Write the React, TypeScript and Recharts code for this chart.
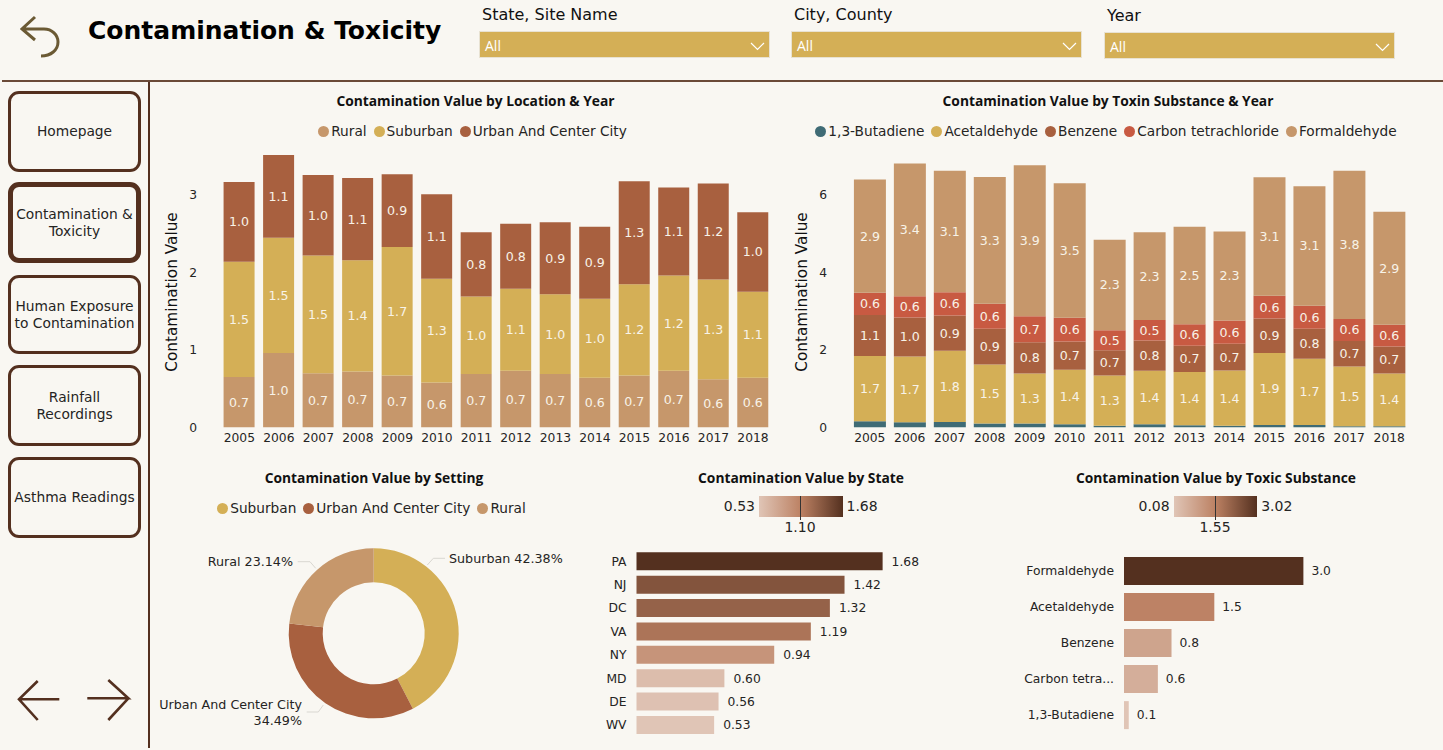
import React from "react";
import { BarChart, Bar, XAxis, YAxis, PieChart, Pie, Cell, LabelList } from "recharts";

const years = ["2005", "2006", "2007", "2008", "2009", "2010", "2011", "2012", "2013", "2014", "2015", "2016", "2017", "2018"];

// contamination by location setting
const ruralValues = [0.65, 0.96, 0.7, 0.72, 0.67, 0.58, 0.69, 0.73, 0.69, 0.64, 0.67, 0.73, 0.62, 0.64];
const suburbanValues = [1.49, 1.49, 1.52, 1.44, 1.66, 1.34, 1.0, 1.06, 1.03, 1.02, 1.18, 1.23, 1.29, 1.11];
const urbanValues = [1.03, 1.07, 1.04, 1.06, 0.94, 1.09, 0.83, 0.84, 0.93, 0.93, 1.33, 1.14, 1.24, 1.03];

// contamination by toxin
const butadieneValues = [0.155, 0.13, 0.14, 0.1, 0.1, 0.08, 0.04, 0.08, 0.05, 0.04, 0.06, 0.06, 0.03, 0.03];
const acetaldehydeValues = [1.69, 1.7, 1.84, 1.52, 1.29, 1.41, 1.3, 1.38, 1.38, 1.43, 1.86, 1.71, 1.54, 1.36];
const benzeneValues = [1.06, 1.01, 0.91, 0.93, 0.81, 0.73, 0.65, 0.78, 0.68, 0.69, 0.89, 0.78, 0.66, 0.7];
const carbonValues = [0.57, 0.55, 0.6, 0.64, 0.67, 0.61, 0.52, 0.53, 0.55, 0.6, 0.59, 0.59, 0.57, 0.56];
const formaldehydeValues = [2.93, 3.43, 3.14, 3.28, 3.9, 3.48, 2.34, 2.27, 2.52, 2.3, 3.06, 3.09, 3.83, 2.92];

const settingNames = ["Suburban", "Urban And Center City", "Rural"];
const settingShares = [42.38, 34.49, 23.14];

const states = ["PA", "NJ", "DC", "VA", "NY", "MD", "DE", "WV"];
const stateValues = [1.68, 1.42, 1.32, 1.19, 0.94, 0.6, 0.56, 0.53];

const substances = ["Formaldehyde", "Acetaldehyde", "Benzene", "Carbon tetrachloride", "1,3-Butadiene"];
const substanceValues = [3.02, 1.52, 0.8, 0.57, 0.08];

const navItems = ["Homepage", "Contamination & Toxicity", "Human Exposure to Contamination", "Rainfall Recordings", "Asthma Readings"];
const slicers = ["State, Site Name", "City, County", "Year"];

const BROWN = "#54301f";
const GOLD = "#d4af56";
const RUST = "#a8603f";
const TAN = "#c6976b";
const TEAL = "#3f6b75";
const RED = "#c85a42";
const BG = "#f9f7f2";
const TEXT = "#252423";
const BODY_FONT = "'DejaVu Sans', sans-serif";
const TITLE_FONT = "'Open Sans', sans-serif";

const locationData = years.map((year, i) => ({
  year,
  rural: ruralValues[i],
  suburban: suburbanValues[i],
  urban: urbanValues[i],
}));

const toxinData = years.map((year, i) => ({
  year,
  butadiene: butadieneValues[i],
  acetaldehyde: acetaldehydeValues[i],
  benzene: benzeneValues[i],
  carbon: carbonValues[i],
  formaldehyde: formaldehydeValues[i],
}));

const settingData = settingNames.map((name, i) => ({ name, value: settingShares[i] }));
const stateData = states.map((name, i) => ({ name, value: stateValues[i] }));
const substanceData = substances.map((name, i) => ({ name, value: substanceValues[i] }));

const hexToRgb = (hex: string) => [1, 3, 5].map((p) => parseInt(hex.slice(p, p + 2), 16));

// same three stop scale the small gradient legends show
function scaleColor(v: number, min: number, mid: number, max: number) {
  const low = hexToRgb("#e0c5b6");
  const centre = hexToRgb("#bc8163");
  const high = hexToRgb(BROWN);
  const [a, b, t] = v < mid ? [low, centre, (v - min) / (mid - min)] : [centre, high, (v - mid) / (max - mid)];
  return `rgb(${a.map((c, i) => Math.round(c + (b[i] - c) * t)).join(",")})`;
}

const fmt1 = (v: unknown) => Number(v).toFixed(1);
const fmt2 = (v: unknown) => Number(v).toFixed(2);
const shorten = (s: string) => (s.length > 14 ? s.slice(0, 12) + "..." : s);

function Title({ text, x, y }: { text: string; x: number; y: number }) {
  return (
    <div
      style={{
        position: "absolute", left: x - 200, top: y - 10, width: 400, height: 20, lineHeight: "20px",
        textAlign: "center", fontFamily: TITLE_FONT, fontWeight: 700, fontSize: 13.8, color: "#111",
      }}
    >
      {text}
    </div>
  );
}

function DotLegend({ items, colors, x, y }: { items: string[]; colors: string[]; x: number; y: number }) {
  return (
    <div
      style={{
        position: "absolute", left: x - 350, top: y - 10, width: 700, height: 20, display: "flex",
        justifyContent: "center", alignItems: "center", gap: 7, fontFamily: BODY_FONT, fontSize: 13.7, color: TEXT,
      }}
    >
      {items.map((item, i) => (
        <span key={item} style={{ display: "flex", alignItems: "center", gap: 2, whiteSpace: "nowrap" }}>
          <span style={{ width: 11, height: 11, borderRadius: "50%", background: colors[i] }} />
          {item}
        </span>
      ))}
    </div>
  );
}

function GradientLegend({ min, mid, max, left, midX }: { min: string; mid: string; max: string; left: number; midX: number }) {
  const width = 83.5;
  const label: React.CSSProperties = { position: "absolute", fontFamily: BODY_FONT, fontSize: 14, color: TEXT, lineHeight: "18px" };
  return (
    <>
      <div
        style={{
          position: "absolute", left, top: 496, width, height: 21,
          background: "linear-gradient(to right, #e0c5b6, #bc8163 50%, #54301f)",
        }}
      />
      <div style={{ position: "absolute", left: midX, top: 496, width: 1, height: 24, background: "#333" }} />
      <div style={{ ...label, left: left - 54, width: 50, top: 497, textAlign: "right" }}>{min}</div>
      <div style={{ ...label, left: left + width + 4, top: 497 }}>{max}</div>
      <div style={{ ...label, left: midX - 30, width: 60, top: 518, textAlign: "center" }}>{mid}</div>
    </>
  );
}

function Slicer({ label, left, top }: { label: string; left: number; top: number }) {
  return (
    <>
      <div style={{ position: "absolute", left: left + 2, top: top - 27, fontFamily: BODY_FONT, fontSize: 16, lineHeight: "20px", color: "#111" }}>
        {label}
      </div>
      <div
        style={{
          position: "absolute", left, top, width: 289, height: 25, background: GOLD, boxShadow: "0 0 0 1px #e8e2d2",
          color: "#fff", fontFamily: TITLE_FONT, fontSize: 14, lineHeight: "27px", textIndent: 5,
        }}
      >
        All
        <svg width="16" height="10" style={{ position: "absolute", left: 270, top: 10 }}>
          <path d="M1 1 L7.5 7.5 L14 1" fill="none" stroke="#fff" strokeWidth="1.2" />
        </svg>
      </div>
    </>
  );
}

const navBoxes = [
  { top: 91, height: 81, border: 3 },
  { top: 182, height: 81, border: 5 },
  { top: 275, height: 79, border: 3 },
  { top: 365, height: 81, border: 3 },
  { top: 457, height: 81, border: 3 },
];

function StackLabels({ dataKey }: { dataKey: string }) {
  return (
    <LabelList
      dataKey={dataKey}
      position="center"
      formatter={fmt1}
      style={{ fill: "#f8f3e8", fontFamily: BODY_FONT, fontSize: 12.6 }}
    />
  );
}

const axisTick = { fill: TEXT, fontFamily: BODY_FONT, fontSize: 12.3 };

// plain text tick so the shortened name stays on one line
function SubstanceTick({ x, y, payload }: any) {
  return (
    <text x={x} y={y} textAnchor="end" dominantBaseline="central" fill={TEXT} style={{ fontFamily: BODY_FONT, fontSize: 12.3 }}>
      {shorten(payload.value)}
    </text>
  );
}

// rotated axis title, nudged a little below the plot centre like the original
function axisLabel(offset: number) {
  return {
    content: ({ viewBox }: any) => {
      const x = viewBox.x + offset;
      const y = viewBox.y + viewBox.height / 2 + 4;
      return (
        <text
          x={x}
          y={y}
          transform={`rotate(-90 ${x} ${y})`}
          textAnchor="middle"
          dominantBaseline="central"
          fill="#111"
          style={{ fontFamily: BODY_FONT, fontSize: 15.3 }}
        >
          Contamination Value
        </text>
      );
    },
  };
}

const labelSpots: Record<string, { line: number[][]; x: number; y: number; anchor: "start" | "end"; lines: string[] }> = {
  Suburban: { line: [[53.6, -68.3], [59.6, -75], [71.3, -75]], x: 75.3, y: -75, anchor: "start", lines: ["Suburban 42.38%"] },
  Rural: { line: [[-58, -65], [-63.7, -71.6], [-76, -71.6]], x: -80.7, y: -71.6, anchor: "end", lines: ["Rural 23.14%"] },
  "Urban And Center City": {
    line: [[-50.4, 71.7], [-55.4, 78.7], [-67, 78.7]], x: -71.7, y: 71, anchor: "end", lines: ["Urban And Center City", "34.49%"],
  },
};

function renderPieLabel(props: any) {
  const { cx, cy, name } = props;
  const spot = labelSpots[name];
  return (
    <g>
      <polyline
        points={spot.line.map(([px, py]) => `${cx + px},${cy + py}`).join(" ")}
        fill="none"
        stroke="#d9d7d1"
        strokeWidth={1}
      />
      {spot.lines.map((line, i) => (
        <text
          key={line}
          x={cx + spot.x}
          y={cy + spot.y + i * 16}
          textAnchor={spot.anchor}
          dominantBaseline="central"
          fill={TEXT}
          style={{ fontFamily: BODY_FONT, fontSize: 12.7 }}
        >
          {line}
        </text>
      ))}
    </g>
  );
}

export default function App() {
  return (
    <div style={{ position: "absolute", left: 0, top: 0, width: 1443, height: 750, background: BG, overflow: "hidden" }}>
      {/* header */}
      <svg width="70" height="70" style={{ position: "absolute", left: 0, top: 0 }}>
        <path d="M35 17 L22 29 L35 40 M22 29 H44 C52 29 58 35 58 42 C58 50 51 56 41 56" fill="none" stroke="#6b5a34" strokeWidth="3" />
      </svg>
      <div style={{ position: "absolute", left: 88, top: 13, fontFamily: BODY_FONT, fontWeight: 700, fontSize: 25, lineHeight: "36px", color: "#000", whiteSpace: "nowrap" }}>
        Contamination &amp; Toxicity
      </div>
      <Slicer label={slicers[0]} left={480} top={32} />
      <Slicer label={slicers[1]} left={792} top={32} />
      <Slicer label={slicers[2]} left={1105} top={33} />
      <div style={{ position: "absolute", left: 2, top: 80, width: 1441, height: 2, background: "#6b4a38" }} />
      <div style={{ position: "absolute", left: 148, top: 82, width: 2, height: 666, background: BROWN }} />

      {/* side navigation */}
      {navItems.map((item, i) => (
        <div
          key={item}
          style={{
            position: "absolute", left: 8, top: navBoxes[i].top, width: 133, height: navBoxes[i].height, boxSizing: "border-box",
            border: `${navBoxes[i].border}px solid ${BROWN}`, borderRadius: 11, display: "flex", alignItems: "center", justifyContent: "center",
            textAlign: "center", fontFamily: BODY_FONT, fontSize: 13.8, lineHeight: "16.6px", color: TEXT,
          }}
        >
          {item}
        </div>
      ))}
      <svg width="140" height="60" style={{ position: "absolute", left: 10, top: 670 }}>
        <path d="M27.7 11 L9 29.3 L27.7 50 M9 29.3 H49.3" fill="none" stroke={BROWN} strokeWidth="2.6" />
        <path d="M77.3 28.3 H118.3 L98.3 10 M118.3 28.3 L98.3 50" fill="none" stroke={BROWN} strokeWidth="2.6" />
      </svg>

      {/* location by year */}
      <Title text="Contamination Value by Location & Year" x={475.5} y={101} />
      <DotLegend items={["Rural", "Suburban", "Urban And Center City"]} colors={[TAN, GOLD, RUST]} x={472.5} y={131} />
      <div style={{ position: "absolute", left: 160, top: 90 }}>
        <BarChart width={620} height={360} data={locationData} barCategoryGap="10.2%" margin={{ top: 58.7, right: 7.25, bottom: 0, left: 0 }}>
          <XAxis dataKey="year" interval={0} axisLine={false} tickLine={false} tickSize={0} tickMargin={6} height={22.7} tick={axisTick} />
          <YAxis
            domain={[0, 3.6]}
            ticks={[0, 1, 2, 3]}
            width={59.55}
            axisLine={false}
            tickLine={false}
            tickSize={0}
            tickMargin={22.5}
            tick={axisTick}
            label={axisLabel(12)}
          />
          <Bar dataKey="rural" stackId="a" fill={TAN} isAnimationActive={false}><StackLabels dataKey="rural" /></Bar>
          <Bar dataKey="suburban" stackId="a" fill={GOLD} isAnimationActive={false}><StackLabels dataKey="suburban" /></Bar>
          <Bar dataKey="urban" stackId="a" fill={RUST} isAnimationActive={false}><StackLabels dataKey="urban" /></Bar>
        </BarChart>
      </div>

      {/* toxin by year */}
      <Title text="Contamination Value by Toxin Substance & Year" x={1108} y={101} />
      <DotLegend
        items={["1,3-Butadiene", "Acetaldehyde", "Benzene", "Carbon tetrachloride", "Formaldehyde"]}
        colors={[TEAL, GOLD, RUST, RED, TAN]}
        x={1106}
        y={131}
      />
      <div style={{ position: "absolute", left: 790, top: 90 }}>
        <BarChart width={625} height={360} data={toxinData} barCategoryGap="10.3%" margin={{ top: 58.7, right: 5.8, bottom: 0, left: 0 }}>
          <XAxis dataKey="year" interval={0} axisLine={false} tickLine={false} tickSize={0} tickMargin={6} height={22.7} tick={axisTick} />
          <YAxis
            domain={[0, 7.2]}
            ticks={[0, 2, 4, 6]}
            width={59.8}
            axisLine={false}
            tickLine={false}
            tickSize={0}
            tickMargin={22.8}
            tick={axisTick}
            label={axisLabel(12)}
          />
          <Bar dataKey="butadiene" stackId="a" fill={TEAL} isAnimationActive={false} />
          <Bar dataKey="acetaldehyde" stackId="a" fill={GOLD} isAnimationActive={false}><StackLabels dataKey="acetaldehyde" /></Bar>
          <Bar dataKey="benzene" stackId="a" fill={RUST} isAnimationActive={false}><StackLabels dataKey="benzene" /></Bar>
          <Bar dataKey="carbon" stackId="a" fill={RED} isAnimationActive={false}><StackLabels dataKey="carbon" /></Bar>
          <Bar dataKey="formaldehyde" stackId="a" fill={TAN} isAnimationActive={false}><StackLabels dataKey="formaldehyde" /></Bar>
        </BarChart>
      </div>

      {/* setting donut */}
      <Title text="Contamination Value by Setting" x={374} y={478} />
      <DotLegend items={settingNames} colors={[GOLD, RUST, TAN]} x={371.5} y={508} />
      <div style={{ position: "absolute", left: 152, top: 530 }}>
        <PieChart width={438} height={210} margin={{ top: 0, right: 0, bottom: 0, left: 0 }}>
          <Pie
            data={settingData}
            dataKey="value"
            nameKey="name"
            cx={221.7}
            cy={103.3}
            innerRadius={51}
            outerRadius={85}
            startAngle={90}
            endAngle={-270}
            stroke="none"
            label={renderPieLabel}
            labelLine={false}
            isAnimationActive={false}
          >
            {settingData.map((d, i) => (
              <Cell key={d.name} fill={[GOLD, RUST, TAN][i]} />
            ))}
          </Pie>
        </PieChart>
      </div>

      {/* by state */}
      <Title text="Contamination Value by State" x={801} y={478} />
      <GradientLegend min="0.53" mid="1.10" max="1.68" left={759} midX={800} />
      <div style={{ position: "absolute", left: 600, top: 540 }}>
        <BarChart width={340} height={205} layout="vertical" data={stateData} barCategoryGap="11.5%" margin={{ top: 9.6, right: 10.5, bottom: 8.3, left: 0 }}>
          <XAxis type="number" domain={[0, 2]} hide />
          <YAxis type="category" dataKey="name" interval={0} width={36.5} axisLine={false} tickLine={false} tickSize={0} tickMargin={10} tick={axisTick} />
          <Bar dataKey="value" isAnimationActive={false}>
            {stateData.map((d) => (
              <Cell key={d.name} fill={scaleColor(d.value, 0.53, 1.1, 1.68)} />
            ))}
            <LabelList dataKey="value" position="right" offset={9} formatter={fmt2} style={{ fill: TEXT, fontFamily: BODY_FONT, fontSize: 12.3 }} />
          </Bar>
        </BarChart>
      </div>

      {/* by substance */}
      <Title text="Contamination Value by Toxic Substance" x={1216} y={478} />
      <GradientLegend min="0.08" mid="1.55" max="3.02" left={1173.7} midX={1215} />
      <div style={{ position: "absolute", left: 1010, top: 540 }}>
        <BarChart width={360} height={205} layout="vertical" data={substanceData} barCategoryGap="11.6%" margin={{ top: 12.7, right: 8.4, bottom: 12, left: 0 }}>
          <XAxis type="number" domain={[0, 4]} hide />
          <YAxis
            type="category"
            dataKey="name"
            interval={0}
            width={114}
            axisLine={false}
            tickLine={false}
            tickSize={0}
            tickMargin={10}
            tick={SubstanceTick}
          />
          <Bar dataKey="value" isAnimationActive={false}>
            {substanceData.map((d) => (
              <Cell key={d.name} fill={scaleColor(d.value, 0.08, 1.55, 3.02)} />
            ))}
            <LabelList dataKey="value" position="right" offset={8} formatter={fmt1} style={{ fill: TEXT, fontFamily: BODY_FONT, fontSize: 12.3 }} />
          </Bar>
        </BarChart>
      </div>
    </div>
  );
}
